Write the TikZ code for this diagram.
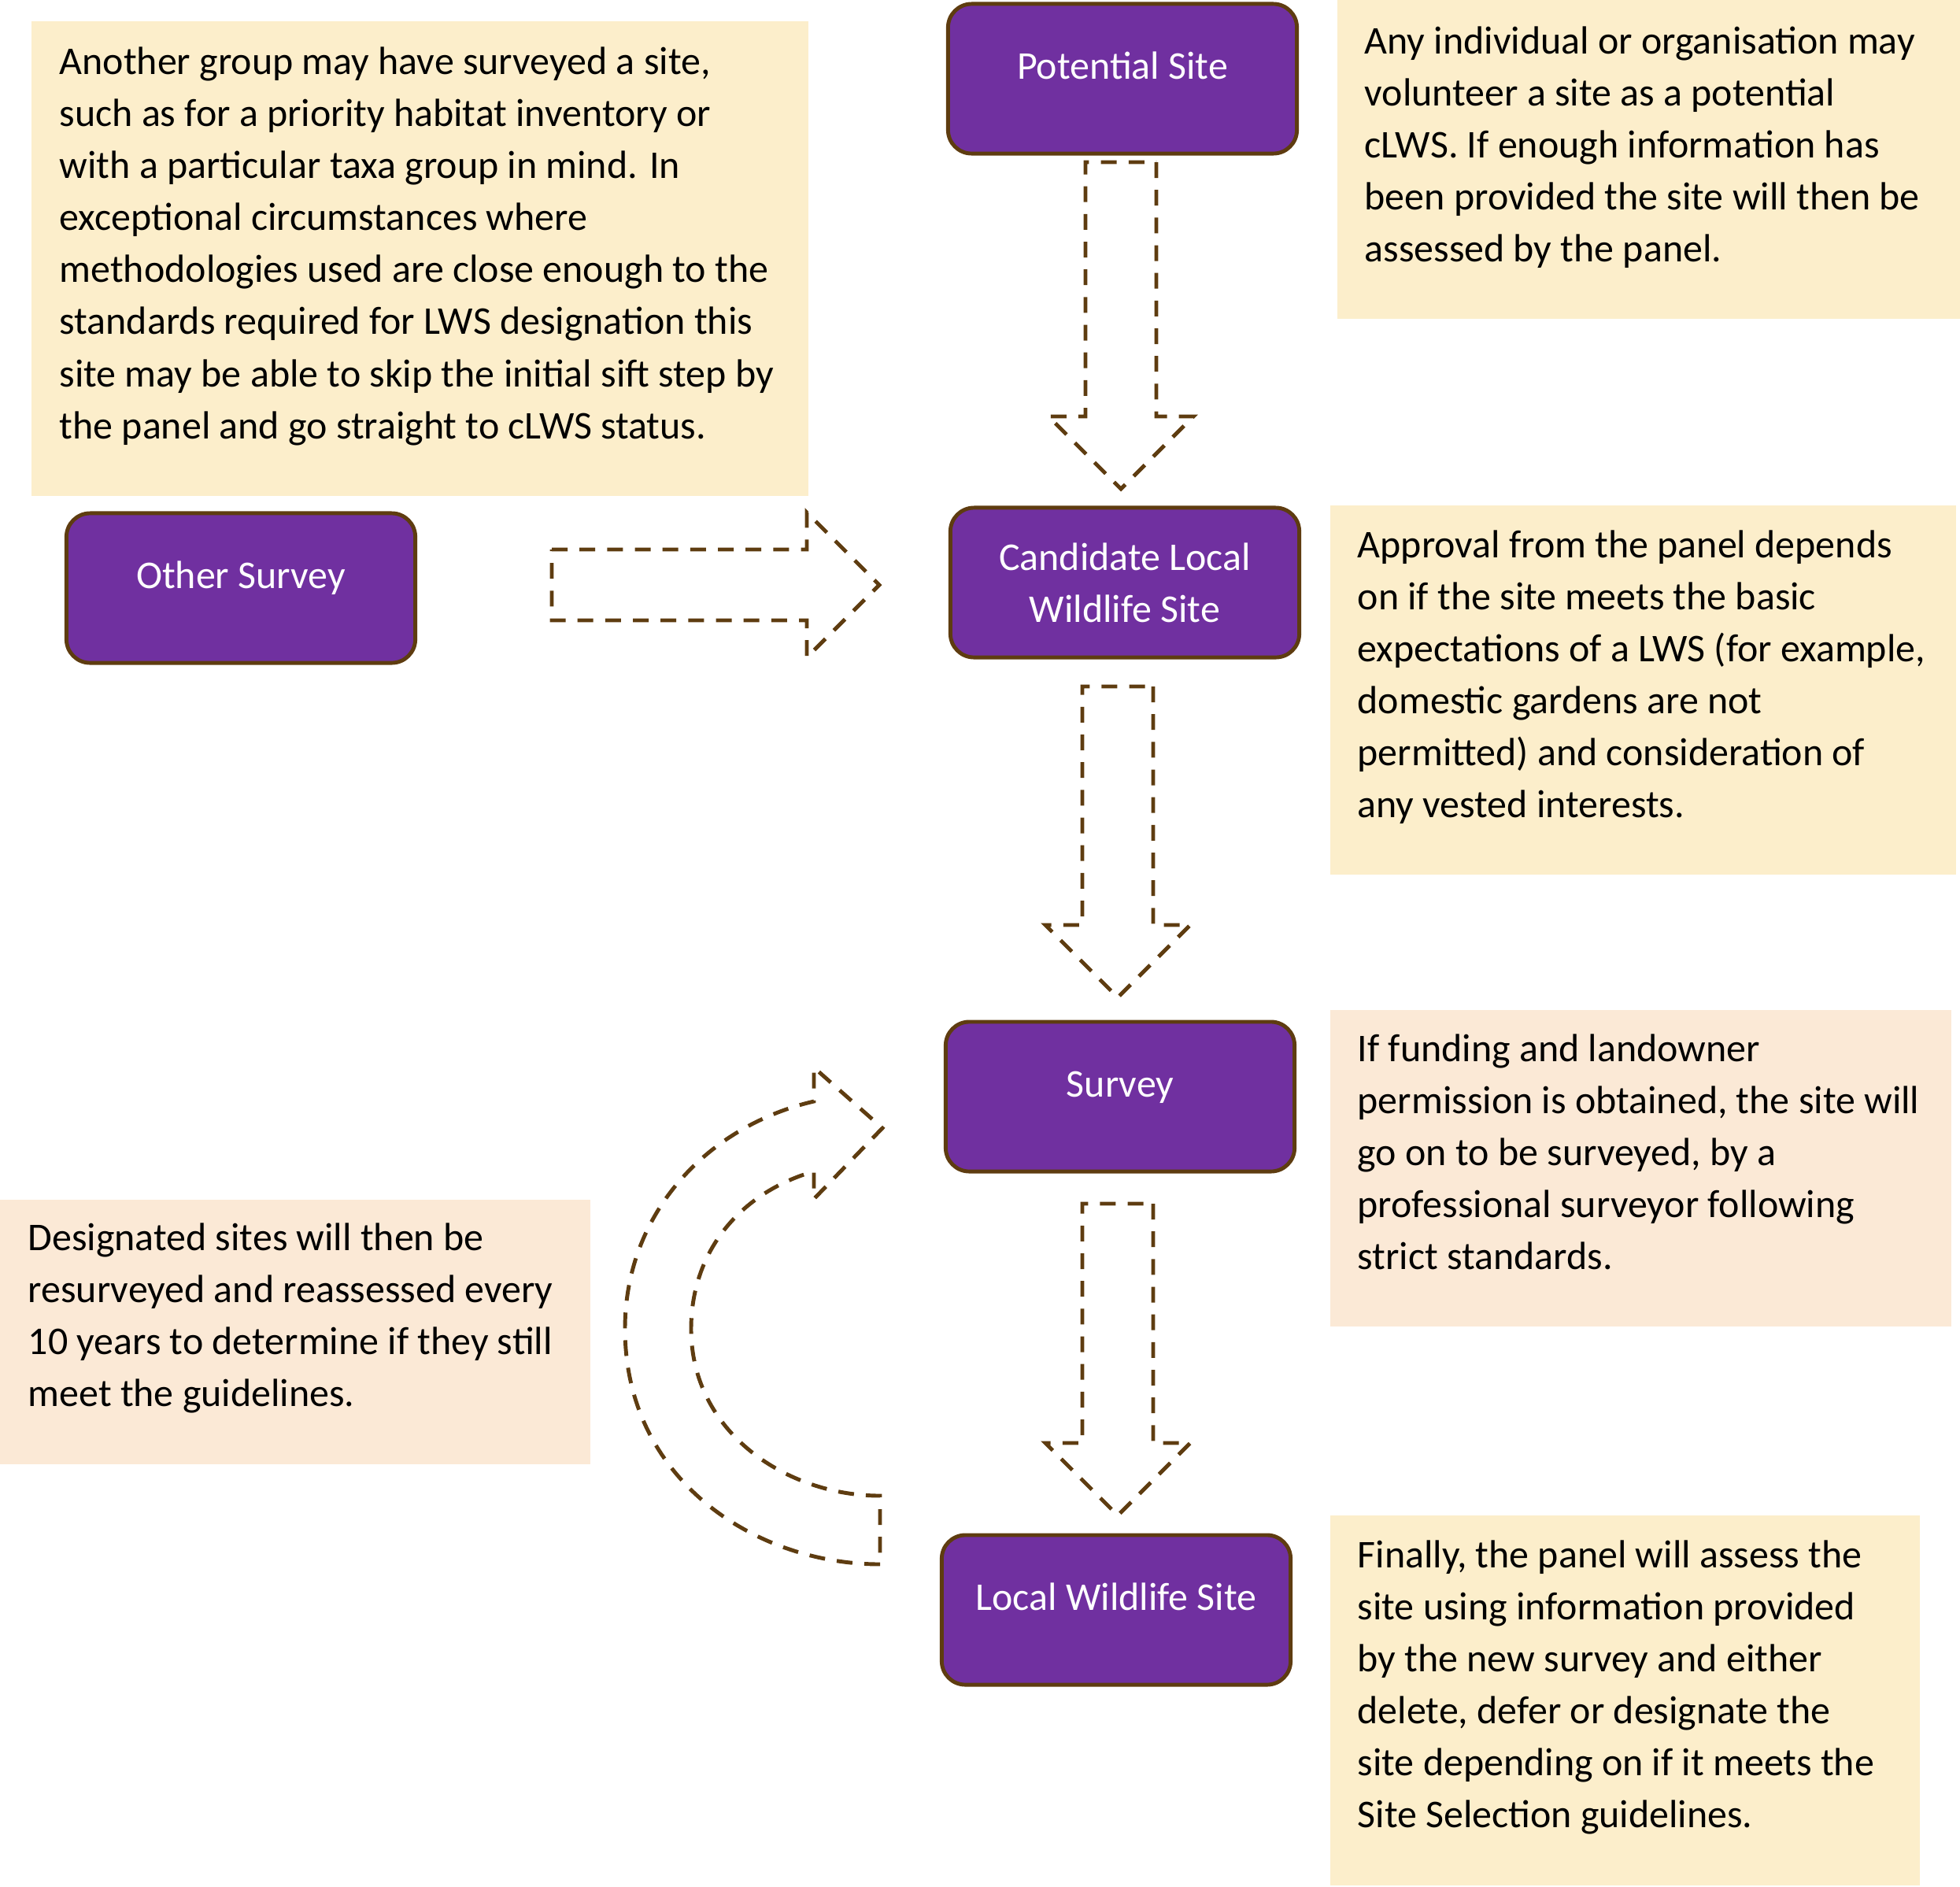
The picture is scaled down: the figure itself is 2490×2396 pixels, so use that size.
\documentclass[tikz,border=0pt]{standalone}
\usepackage{fontspec}
\setmainfont{Carlito}
\definecolor{sitepurple}{HTML}{7030A0}
\definecolor{sitebrown}{HTML}{5E3C10}
\definecolor{noteyellow}{HTML}{FCEECB}
\definecolor{notepeach}{HTML}{FBE9D6}

\tikzset{
  site/.style={draw=sitebrown, line width=1.4pt, fill=sitepurple, rounded corners=0.3cm,
    minimum width=4.43cm, minimum height=1.90cm, text=white, align=center,
    font=\fontsize{14.2}{18.8}\selectfont},
  oneline/.style={text height=10pt, text depth=10pt},
  note/.style={anchor=north west, inner sep=0pt, align=left,
    font=\fontsize{14.2}{18.8}\selectfont},
  arrowline/.style={draw=sitebrown, line width=1.4pt, dash pattern=on 5.7pt off 4.3pt},
  pics/blockarrow/.style={code={
    \draw[arrowline] (0,-45) -- (#1-92,-45) -- (#1-92,-92) -- (#1,0)
      -- (#1-92,92) -- (#1-92,45) -- (0,45) -- cycle;
  }}
}

\begin{document}
\begin{tikzpicture}[x=0.01cm, y=-0.01cm]
\useasboundingbox (0,0) rectangle (2490,2396);

% text panels
\fill[noteyellow] (40,27) rectangle (1027,630);
\fill[noteyellow] (1699,0) rectangle (2490,405);
\fill[noteyellow] (1690,642) rectangle (2485,1111);
\fill[notepeach] (1690,1283) rectangle (2479,1685);
\fill[noteyellow] (1690,1925) rectangle (2439,2395);
\fill[notepeach] (0,1524) rectangle (750,1860);

\node[note] (txtother) at (75,59) {Another group may have surveyed a site,\\
such as for a priority habitat inventory or\\
with a particular taxa group in mind. In\\
exceptional circumstances where\\
methodologies used are close enough to the\\
standards required for LWS designation this\\
site may be able to skip the initial sift step by\\
the panel and go straight to cLWS status.};
\node[note] (txtpot) at (1733,33) {Any individual or organisation may\\
volunteer a site as a potential\\
cLWS. If enough information has\\
been provided the site will then be\\
assessed by the panel.};
\node[note] (txtcand) at (1724,673) {Approval from the panel depends\\
on if the site meets the basic\\
expectations of a LWS (for example,\\
domestic gardens are not\\
permitted) and consideration of\\
any vested interests.};
\node[note] (txtsurv) at (1724,1313) {If funding and landowner\\
permission is obtained, the site will\\
go on to be surveyed, by a\\
professional surveyor following\\
strict standards.};
\node[note] (txtlws) at (1724,1956) {Finally, the panel will assess the\\
site using information provided\\
by the new survey and either\\
delete, defer or designate the\\
site depending on if it meets the\\
Site Selection guidelines.};
\node[note] (txtrenew) at (35,1553) {Designated sites will then be\\
resurveyed and reassessed every\\
10 years to determine if they still\\
meet the guidelines.};

% stages
\node[site, oneline] (pot) at (1426,100) {Potential Site};
\node[site, oneline] (other) at (306,747) {Other Survey};
\node[site] (cand) at (1429,740) {Candidate Local\\Wildlife Site};
\node[site, oneline] (surv) at (1423,1393) {Survey};
\node[site, oneline] (lws) at (1418,2045) {Local Wildlife Site};

% block arrows
\foreach \x/\y/\len in {1424/206/415, 1420/872/395, 1420/1529/396}
  \pic[rotate=-90] at (\x,\y) {blockarrow=\len};
\pic at (701,743) {blockarrow=416};

% resurvey loop
\draw[arrowline] (1118,1987) .. controls (960,1987) and (794,1880) .. (794,1688)
  .. controls (794,1540) and (900,1430) .. (1034,1399)
  -- (1034,1356) -- (1121,1433) -- (1034,1523) -- (1034,1488)
  .. controls (940,1515) and (878,1590) .. (878,1688)
  .. controls (878,1820) and (1000,1900) .. (1118,1900) -- cycle;
\end{tikzpicture}
\end{document}
